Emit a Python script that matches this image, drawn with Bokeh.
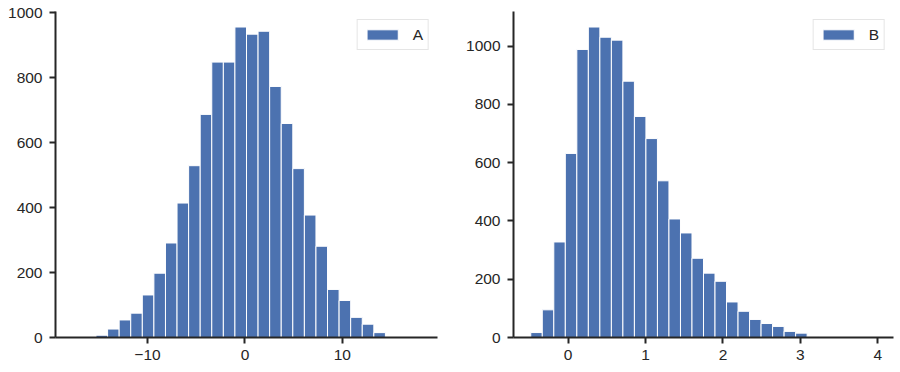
import numpy as np
from bokeh.plotting import figure
from bokeh.layouts import row
from bokeh.models import (Range1d, FixedTicker, Legend, LegendItem,
                          ColumnDataSource, CustomJSTickFormatter)
from bokeh.embed import file_html
from bokeh.resources import INLINE

# Histogram A: 30 bins
a_counts = [1, 1, 7, 26, 54, 75, 131, 198, 291, 414, 529, 687, 848, 848, 956,
            934, 943, 773, 659, 520, 377, 281, 148, 114, 62, 41, 15, 3, 1, 1]
a_first_edge = -17.66
a_bin_width = 1.188
a_xticks = [-10, 0, 10]

# Histogram B: 30 bins
b_counts = [17, 95, 328, 632, 989, 1066, 1031, 1021, 880, 759, 683, 538, 407,
            359, 272, 221, 193, 122, 90, 62, 48, 38, 21, 15, 3, 2, 1, 1, 0, 1]
b_first_edge = -0.482
b_bin_width = 0.1487
b_xticks = [0, 1, 2, 3, 4]

y_ticks = [0, 200, 400, 600, 800, 1000]

BAR = "#4C72B0"
INK = "#262626"
FONT = "Liberation Sans"
FS = "15.5px"


def make(counts, first, w, xticks, label, width, bl, br):
    n = len(counts)
    edges = first + w * np.arange(n + 1)
    lo, hi = edges[0], edges[-1]
    pad = 0.05 * (hi - lo)
    p = figure(width=width, height=372, output_backend="svg",
               toolbar_location=None,
               x_range=Range1d(lo - pad, hi + pad),
               y_range=Range1d(0, max(counts) * 1.05),
               min_border_left=bl, min_border_right=br,
               min_border_top=11, min_border_bottom=35)
    src = ColumnDataSource(dict(left=edges[:-1], right=edges[1:],
                                top=counts, bottom=[0] * n))
    r = p.quad(left="left", right="right", top="top", bottom="bottom",
               source=src, fill_color=BAR, line_color="white", line_width=1)
    p.xgrid.visible = False
    p.ygrid.visible = False
    p.outline_line_color = None
    p.background_fill_color = "white"
    p.border_fill_color = "white"
    p.xaxis.ticker = FixedTicker(ticks=xticks)
    p.yaxis.ticker = FixedTicker(ticks=y_ticks)
    p.xaxis.formatter = CustomJSTickFormatter(
        code="return tick < 0 ? '\u2212' + Math.abs(tick) : String(tick);")
    for ax in (p.xaxis[0], p.yaxis[0]):
        ax.axis_line_width = 2
        ax.axis_line_color = INK
        ax.major_tick_line_width = 2
        ax.major_tick_line_color = INK
        ax.major_tick_out = 6
        ax.major_tick_in = 0
        ax.minor_tick_line_color = None
        ax.major_label_text_font = FONT
        ax.major_label_text_font_size = FS
        ax.major_label_text_color = INK
    p.xaxis[0].major_label_standoff = 6
    p.yaxis[0].major_label_standoff = 7
    legend = Legend(items=[LegendItem(label=label, renderers=[r])],
                    location="top_right", margin=8, padding=5, spacing=0,
                    glyph_width=39, glyph_height=13, label_height=19,
                    label_width=10, label_standoff=11, label_text_font=FONT,
                    label_text_font_size=FS, label_text_color=INK,
                    border_line_color="#cccccc", border_line_width=1,
                    background_fill_color="white", background_fill_alpha=0.8)
    p.add_layout(legend)
    return p


p1 = make(a_counts, a_first_edge, a_bin_width, a_xticks, "A", 450, 55, 13)
p2 = make(b_counts, b_first_edge, b_bin_width, b_xticks, "B", 450, 63, 7)
layout = row(p1, p2)

open("out.html", "w").write(file_html(layout, INLINE))
